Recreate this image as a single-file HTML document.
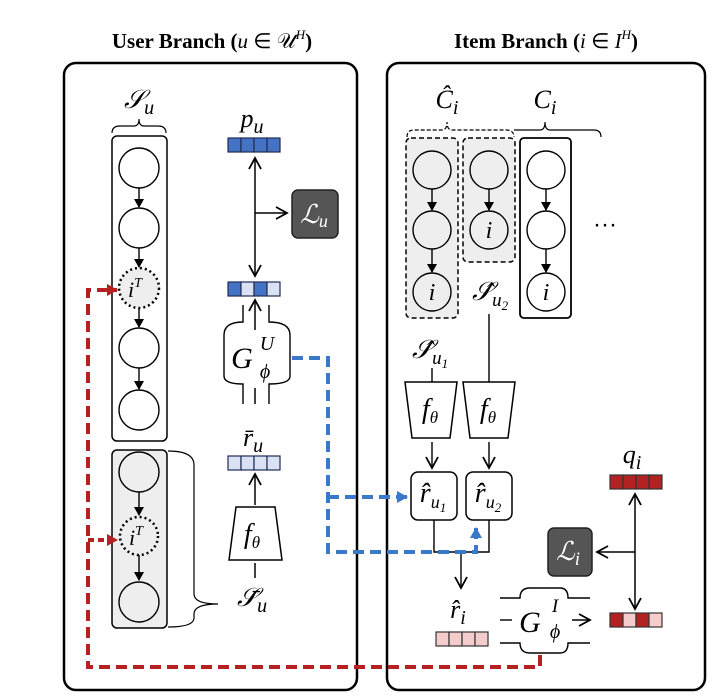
<!DOCTYPE html>
<html><head><meta charset="utf-8"><style>
html,body{margin:0;padding:0;background:#fff;}
svg{display:block;}
.t{font-family:"Liberation Serif",serif;font-style:italic;}
</style></head><body>
<svg width="720" height="699" viewBox="0 0 720 699" xmlns="http://www.w3.org/2000/svg">
<defs>
<marker id="a" markerWidth="10" markerHeight="10" refX="8" refY="5" orient="auto" markerUnits="userSpaceOnUse"><path d="M0,0 L9,5 L0,10 z" fill="#000"/></marker>
<marker id="o" markerWidth="14" markerHeight="14" refX="12" refY="7" orient="auto" markerUnits="userSpaceOnUse"><path d="M1,1 L12,7 L1,13" fill="none" stroke="#000" stroke-width="1.8"/></marker>
<marker id="b" markerWidth="12" markerHeight="12" refX="10" refY="6" orient="auto" markerUnits="userSpaceOnUse"><path d="M0,0 L11,6 L0,12 z" fill="#3a78c8"/></marker>
<marker id="r" markerWidth="12" markerHeight="12" refX="10" refY="6" orient="auto" markerUnits="userSpaceOnUse"><path d="M0,0 L11,6 L0,12 z" fill="#b52020"/></marker>
</defs>
<g font-family="Liberation Serif, serif" font-weight="bold" font-size="21">
<text x="212" y="48" text-anchor="middle">User Branch (<tspan font-style="italic" font-weight="normal">u</tspan><tspan font-weight="normal"> ∈ 𝒰</tspan><tspan font-size="13" dy="-9" font-weight="normal" font-style="italic">H</tspan><tspan dy="9">)</tspan></text>
<text x="546" y="48" text-anchor="middle">Item Branch (<tspan font-style="italic" font-weight="normal">i</tspan><tspan font-weight="normal"> ∈ </tspan><tspan font-style="italic" font-weight="normal">I</tspan><tspan font-size="13" dy="-9" font-weight="normal" font-style="italic">H</tspan><tspan dy="9">)</tspan></text>
</g>
<rect x="64" y="63" width="293" height="627" rx="12" fill="none" stroke="#000" stroke-width="2.5"/>
<rect x="387" y="63" width="318" height="627" rx="12" fill="none" stroke="#000" stroke-width="2.5"/>

<!-- left sequence -->
<text class="t" x="139" y="108" font-size="26" text-anchor="middle">𝒮<tspan font-size="20" dy="6">u</tspan></text>
<path d="M112,133 Q112,126 120,126 L134,126 Q139,126 139,119 Q139,126 144,126 L158,126 Q166,126 166,133" fill="none" stroke="#000" stroke-width="1.2"/>
<rect x="112" y="136" width="55" height="305" rx="5" fill="#fff" stroke="#000" stroke-width="1.5"/>
<g stroke="#000" stroke-width="1.4" fill="#fff">
<circle cx="139" cy="168" r="20"/><circle cx="139" cy="228" r="20"/>
<circle cx="139" cy="288" r="20" fill="#eee" stroke-dasharray="2,3" stroke-width="2.5"/>
<circle cx="139" cy="348" r="20"/><circle cx="139" cy="410" r="20"/>
</g>
<g stroke="#000" stroke-width="1.4" marker-end="url(#a)">
<line x1="139" y1="188" x2="139" y2="207"/><line x1="139" y1="248" x2="139" y2="267"/>
<line x1="139" y1="308" x2="139" y2="327"/><line x1="139" y1="368" x2="139" y2="389"/>
</g>
<text class="t" x="135" y="297" font-size="22" text-anchor="middle">i<tspan font-size="14" dy="-10">T</tspan></text>
<rect x="112" y="450" width="55" height="178" rx="5" fill="#eee" stroke="#000" stroke-width="1.5"/>
<g stroke="#000" stroke-width="1.4" fill="#eee">
<circle cx="139" cy="472" r="20"/><circle cx="139" cy="536" r="19" stroke-dasharray="2,3" stroke-width="2.5"/><circle cx="139" cy="602" r="20"/>
</g>
<g stroke="#000" stroke-width="1.4" marker-end="url(#a)">
<line x1="139" y1="492" x2="139" y2="515"/><line x1="139" y1="555" x2="139" y2="580"/>
</g>
<text class="t" x="136" y="545" font-size="22" text-anchor="middle">i<tspan font-size="14" dy="-10">T</tspan></text>
<path d="M168,451 Q194,451 194,465 L194,594 Q194,604 218,604 Q194,604 194,614 L194,618 Q194,627 168,627" fill="none" stroke="#000" stroke-width="1.2"/>

<!-- left middle -->
<text class="t" x="252" y="127" font-size="26" text-anchor="middle">p<tspan font-size="20" dy="6">u</tspan></text>
<g stroke="#1f2d55" stroke-width="1.2">
<rect x="228" y="138" width="13" height="14" fill="#4472c4"/><rect x="241" y="138" width="13" height="14" fill="#4472c4"/><rect x="254" y="138" width="13" height="14" fill="#4472c4"/><rect x="267" y="138" width="13" height="14" fill="#4472c4"/>
<rect x="228" y="282" width="13" height="14" fill="#4472c4"/><rect x="241" y="282" width="13" height="14" fill="#d9e1f2"/><rect x="254" y="282" width="13" height="14" fill="#4472c4"/><rect x="267" y="282" width="13" height="14" fill="#d9e1f2"/>
<rect x="228" y="456" width="13" height="14" fill="#d9e1f2"/><rect x="241" y="456" width="13" height="14" fill="#d9e1f2"/><rect x="254" y="456" width="13" height="14" fill="#d9e1f2"/><rect x="267" y="456" width="13" height="14" fill="#d9e1f2"/>
</g>
<line x1="255" y1="213" x2="255" y2="158" stroke="#000" stroke-width="1.5" marker-end="url(#o)"/>
<line x1="255" y1="213" x2="255" y2="276" stroke="#000" stroke-width="1.5" marker-end="url(#o)"/>
<line x1="255" y1="213" x2="287" y2="213" stroke="#000" stroke-width="1.5" marker-end="url(#o)"/>
<rect x="292" y="190" width="46" height="48" rx="6" fill="#555" stroke="#222" stroke-width="1.5"/>
<text class="t" x="314" y="223" font-size="26" fill="#fff" text-anchor="middle">ℒ<tspan font-size="18" dy="4">u</tspan></text>
<!-- G_U -->
<path d="M243,305 L243,322 Q224,322 224,335 L224,376 Q224,384 243,384 L243,404" fill="none" stroke="#000" stroke-width="1.4"/>
<path d="M269,305 L269,322 Q290,322 290,335 L290,376 Q290,384 269,384 L269,404" fill="none" stroke="#000" stroke-width="1.4"/>
<line x1="255" y1="330" x2="255" y2="300" stroke="#000" stroke-width="1.5" marker-end="url(#o)"/>
<line x1="255" y1="388" x2="255" y2="404" stroke="#000" stroke-width="1.5"/>
<text class="t" x="242" y="368" font-size="30" text-anchor="middle">G</text>
<text class="t" x="267" y="350" font-size="20" text-anchor="middle">U</text>
<text class="t" x="265" y="378" font-size="20" text-anchor="middle">ϕ</text>
<text class="t" x="253" y="446" font-size="26" text-anchor="middle">r̄<tspan font-size="20" dy="6">u</tspan></text>
<path d="M236,507 L275,507 L282,560 L229,560 Z" fill="#fff" stroke="#000" stroke-width="1.5"/>
<text class="t" x="252" y="543" font-size="28" text-anchor="middle">f<tspan font-size="17" dy="5">θ</tspan></text>
<line x1="255" y1="505" x2="255" y2="474" stroke="#000" stroke-width="1.5" marker-end="url(#o)"/>
<line x1="255" y1="563" x2="255" y2="578" stroke="#000" stroke-width="1.5"/>
<text class="t" x="252" y="606" font-size="26" text-anchor="middle">𝒮̄<tspan font-size="20" dy="6">u</tspan></text>

<!-- right columns -->
<text class="t" x="447" y="108" font-size="26" text-anchor="middle">Ĉ<tspan font-size="20" dy="6">i</tspan></text>
<text class="t" x="545" y="108" font-size="26" text-anchor="middle">C<tspan font-size="20" dy="6">i</tspan></text>
<path d="M407,137 Q407,130 414,130 L442,130 Q447,130 447,122 Q447,130 452,130 L506,130 Q514,130 514,137" fill="none" stroke="#000" stroke-width="1.2" stroke-dasharray="4,2"/>
<path d="M514,130 L540,130 Q545,130 545,122 Q545,130 550,130 L594,130 Q601,130 601,137" fill="none" stroke="#000" stroke-width="1.2"/>
<rect x="406" y="138" width="52" height="180" rx="5" fill="#eee" stroke="#000" stroke-width="1.5" stroke-dasharray="5,3"/>
<rect x="463" y="138" width="52" height="124" rx="5" fill="#eee" stroke="#000" stroke-width="1.5" stroke-dasharray="5,3"/>
<rect x="520" y="138" width="51" height="180" rx="4" fill="#fff" stroke="#000" stroke-width="1.8"/>
<g stroke="#000" stroke-width="1.4">
<circle cx="432" cy="170" r="19" fill="#eee"/><circle cx="432" cy="230" r="19" fill="#eee"/><circle cx="432" cy="292" r="19" fill="#eee"/>
<circle cx="489" cy="170" r="19" fill="#eee"/><circle cx="489" cy="230" r="19" fill="#eee"/>
<circle cx="546" cy="170" r="19" fill="#fff"/><circle cx="546" cy="230" r="19" fill="#fff"/><circle cx="546" cy="292" r="19" fill="#fff"/>
</g>
<g stroke="#000" stroke-width="1.4" marker-end="url(#a)">
<line x1="432" y1="189" x2="432" y2="210"/><line x1="432" y1="249" x2="432" y2="272"/>
<line x1="489" y1="189" x2="489" y2="210"/>
<line x1="546" y1="189" x2="546" y2="210"/><line x1="546" y1="249" x2="546" y2="272"/>
</g>
<g class="t" font-size="24" text-anchor="middle">
<text x="432" y="300">i</text><text x="489" y="238">i</text><text x="546" y="300">i</text>
</g>
<text x="605" y="232" font-size="24" font-family="Liberation Sans, sans-serif" text-anchor="middle">···</text>
<text class="t" x="490" y="300" font-size="26" text-anchor="middle">𝒮̂<tspan font-size="19" dy="6">u</tspan><tspan font-size="13" dy="4">2</tspan></text>
<text class="t" x="430" y="358" font-size="26" text-anchor="middle">𝒮̂<tspan font-size="19" dy="6">u</tspan><tspan font-size="13" dy="4">1</tspan></text>
<line x1="432" y1="368" x2="432" y2="382" stroke="#000" stroke-width="1.4"/>
<line x1="489" y1="314" x2="489" y2="382" stroke="#000" stroke-width="1.4"/>
<path d="M405,382 L457,382 L450,438 L412,438 Z" fill="#fff" stroke="#000" stroke-width="1.5"/>
<path d="M463,382 L515,382 L508,438 L470,438 Z" fill="#fff" stroke="#000" stroke-width="1.5"/>
<text class="t" x="430" y="418" font-size="28" text-anchor="middle">f<tspan font-size="17" dy="5">θ</tspan></text>
<text class="t" x="488" y="418" font-size="28" text-anchor="middle">f<tspan font-size="17" dy="5">θ</tspan></text>
<line x1="432" y1="442" x2="432" y2="468" stroke="#000" stroke-width="1.4" marker-end="url(#o)"/>
<line x1="489" y1="442" x2="489" y2="468" stroke="#000" stroke-width="1.4" marker-end="url(#o)"/>
<rect x="411" y="472" width="46" height="48" rx="7" fill="#fff" stroke="#000" stroke-width="1.5"/>
<rect x="466" y="472" width="46" height="48" rx="7" fill="#fff" stroke="#000" stroke-width="1.5"/>
<text class="t" x="433" y="502" font-size="28" text-anchor="middle">r̂<tspan font-size="18" dy="6">u</tspan><tspan font-size="13" dy="4">1</tspan></text>
<text class="t" x="488" y="502" font-size="28" text-anchor="middle">r̂<tspan font-size="18" dy="6">u</tspan><tspan font-size="13" dy="4">2</tspan></text>
<path d="M434,520 L434,552 L489,552 L489,520" fill="none" stroke="#000" stroke-width="1.4"/>
<line x1="461" y1="552" x2="461" y2="588" stroke="#000" stroke-width="1.4" marker-end="url(#o)"/>
<text class="t" x="458" y="618" font-size="26" text-anchor="middle">r̂<tspan font-size="20" dy="6">i</tspan></text>
<g stroke="#333" stroke-width="1.2" fill="#f4cccc">
<rect x="436" y="632" width="13" height="14"/><rect x="449" y="632" width="13" height="14"/><rect x="462" y="632" width="13" height="14"/><rect x="475" y="632" width="13" height="14"/>
</g>
<!-- G_I -->
<path d="M500,598 L520,598 Q520,588 530,588 L560,588 Q568,588 568,598 L590,598" fill="none" stroke="#000" stroke-width="1.4"/>
<path d="M500,643 L520,643 Q520,653 530,653 L560,653 Q568,653 568,643 L590,643" fill="none" stroke="#000" stroke-width="1.4"/>
<line x1="500" y1="620" x2="512" y2="620" stroke="#000" stroke-width="1.4"/>
<line x1="572" y1="620" x2="590" y2="620" stroke="#000" stroke-width="1.4" marker-end="url(#o)"/>
<text class="t" x="530" y="632" font-size="30" text-anchor="middle">G</text>
<text class="t" x="555" y="612" font-size="19" text-anchor="middle">I</text>
<text class="t" x="555" y="638" font-size="20" text-anchor="middle">ϕ</text>
<text class="t" x="632" y="463" font-size="26" text-anchor="middle">q<tspan font-size="20" dy="6">i</tspan></text>
<g stroke="#333" stroke-width="1.2">
<rect x="610" y="475" width="13" height="14" fill="#b22222"/><rect x="623" y="475" width="13" height="14" fill="#b22222"/><rect x="636" y="475" width="13" height="14" fill="#b22222"/><rect x="649" y="475" width="13" height="14" fill="#b22222"/>
<rect x="610" y="613" width="13" height="14" fill="#b22222"/><rect x="623" y="613" width="13" height="14" fill="#f4cccc"/><rect x="636" y="613" width="13" height="14" fill="#b22222"/><rect x="649" y="613" width="13" height="14" fill="#f4cccc"/>
</g>
<line x1="635" y1="552" x2="635" y2="494" stroke="#000" stroke-width="1.5" marker-end="url(#o)"/>
<line x1="635" y1="552" x2="635" y2="609" stroke="#000" stroke-width="1.5" marker-end="url(#o)"/>
<line x1="635" y1="552" x2="597" y2="552" stroke="#000" stroke-width="1.5" marker-end="url(#o)"/>
<rect x="548" y="528" width="44" height="48" rx="6" fill="#555" stroke="#222" stroke-width="1.5"/>
<text class="t" x="568" y="560" font-size="26" fill="#fff" text-anchor="middle">ℒ<tspan font-size="19" dy="5">i</tspan></text>

<!-- blue dashed -->
<path d="M292,358 L328,358 L328,552 L476,552 L476,528" fill="none" stroke="#3a78c8" stroke-width="4" stroke-dasharray="11,6" marker-end="url(#b)"/>
<path d="M328,497 L407,497" fill="none" stroke="#3a78c8" stroke-width="4" stroke-dasharray="11,6" marker-end="url(#b)"/>
<!-- red dashed -->
<path d="M540,655 L540,667 L88,667 L88,290 L117,290" fill="none" stroke="#b52020" stroke-width="4" stroke-dasharray="11,6" marker-end="url(#r)"/>
<path d="M88,540 L117,540" fill="none" stroke="#b52020" stroke-width="4" stroke-dasharray="6,4" marker-end="url(#r)"/>
</svg>
</body></html>
